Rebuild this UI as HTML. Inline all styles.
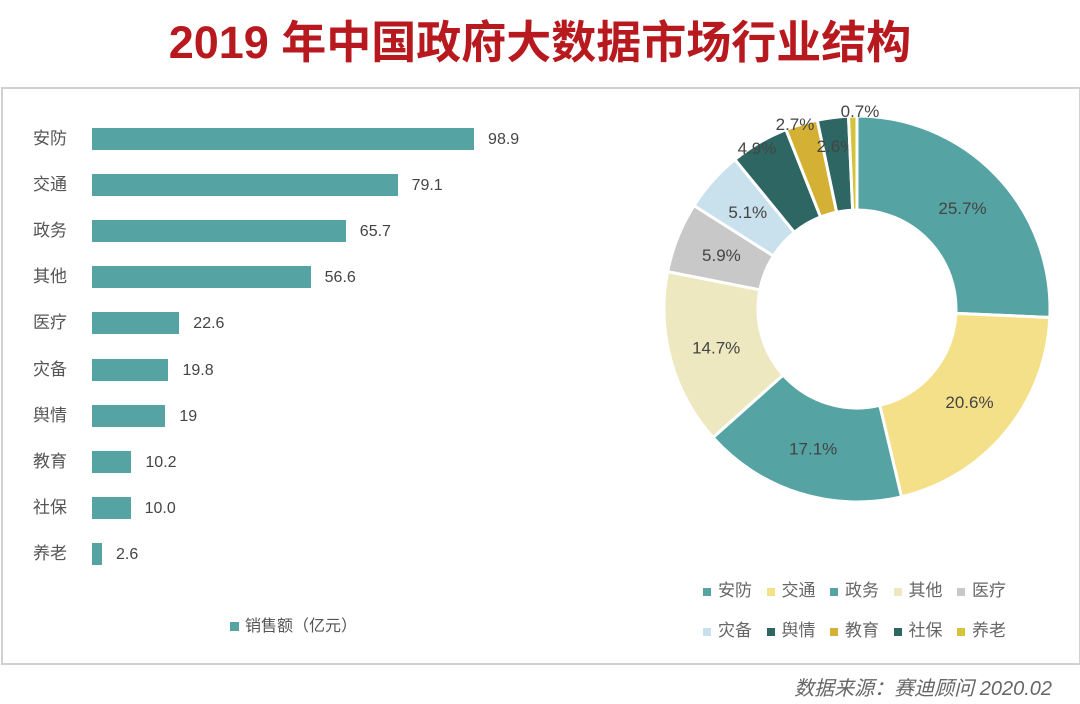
<!DOCTYPE html>
<html><head><meta charset="utf-8"><style>
body{margin:0;width:1080px;height:704px;background:#fff;overflow:hidden;font-family:"Liberation Sans","Noto Sans CJK SC",sans-serif;position:relative}
.t{position:absolute;top:6px;left:0;width:1080px;text-align:center;color:#b8191f;font-weight:bold;font-size:45px;font-family:"Liberation Sans","Noto Sans CJK SC",sans-serif}
.frame{position:absolute;left:1px;top:87px;width:1076px;height:574px;border:2px solid #d0d0d0}
.lab{position:absolute;left:33px;font-size:17px;color:#555;line-height:20px}
.bar{position:absolute;left:92px;height:22px;background:#55a3a3}
.val{position:absolute;font-size:16px;color:#444;line-height:20px}
.src{position:absolute;right:28px;top:672px;font-size:20px;color:#666;font-style:italic}
</style></head><body>
<div class="t">2019 年中国政府大数据市场行业结构</div>
<div class="frame"></div>
<div id="bars"></div>
<div style="position:absolute;left:230px;top:612px;font-size:16px;color:#555"><span style="display:inline-block;width:9px;height:9px;background:#55a3a3;margin-right:6px"></span>销售额（亿元）</div>
<svg id="pie" width="1080" height="704" style="position:absolute;left:0;top:0"></svg>
<div id="leg"></div>
<div class="src">数据来源：赛迪顾问 2020.02</div>
<script>
var names=["安防","交通","政务","其他","医疗","灾备","舆情","教育","社保","养老"];
var vals=[98.9,79.1,65.7,56.6,22.6,19.8,19,10.2,10.0,2.6];
var vs=["98.9","79.1","65.7","56.6","22.6","19.8","19","10.2","10.0","2.6"];
var h="";
for(var i=0;i<10;i++){var y=139+i*46.1;var w=vals[i]*3.863;
h+='<div class="lab" style="top:'+(y-10)+'px">'+names[i]+'</div><div class="bar" style="top:'+(y-11)+'px;width:'+w+'px"></div><div class="val" style="top:'+(y-9)+'px;left:'+(92+w+14)+'px">'+vs[i]+'</div>';}
document.getElementById("bars").innerHTML=h;
var pc=[25.7,20.6,17.1,14.7,5.9,5.1,4.9,2.7,2.6,0.7];
var col=["#55a3a3","#f5e08a","#55a3a3","#ede8bf","#c8c8c8","#c9e1ec","#2e6664","#d4b134","#2e6664","#d4c43c"];
var cx=857,cy=309,R=193,r=99,a=-Math.PI/2,s="";
var lp=[[0,0],[0,0],[0,0],[0,0],[0,0],[0,0],[757,148],[795,124],[836,146],[860,111]];
for(var i=0;i<10;i++){var b=a+pc[i]/100*2*Math.PI;var L=(pc[i]>50)?1:0;
function P(rr,t){return (cx+rr*Math.cos(t)).toFixed(2)+","+(cy+rr*Math.sin(t)).toFixed(2)}
s+='<path d="M'+P(R,a)+' A'+R+','+R+' 0 '+L+' 1 '+P(R,b)+' L'+P(r,b)+' A'+r+','+r+' 0 '+L+' 0 '+P(r,a)+'Z" fill="'+col[i]+'" stroke="#fff" stroke-width="3"/>';
var m=(a+b)/2,tx,ty;
if(i<6){tx=cx+146*Math.cos(m);ty=cy+146*Math.sin(m);}else{tx=lp[i][0];ty=lp[i][1];}
s+='<text x="'+tx+'" y="'+(ty+6)+'" text-anchor="middle" font-size="17" fill="#444" font-family="Liberation Sans, sans-serif">'+pc[i].toFixed(1)+'%</text>';
a=b;}
document.getElementById("pie").innerHTML=s;
var g="";
for(var i=0;i<10;i++){var x=703+(i%5)*63.5,y=(i<5)?576:616;
g+='<div style="position:absolute;left:'+x+'px;top:'+y+'px;font-size:17px;color:#666;white-space:nowrap"><span style="display:inline-block;width:8px;height:8px;background:'+col[i]+';margin-right:7px;vertical-align:middle"></span>'+names[i]+'</div>';}
document.getElementById("leg").innerHTML=g;
</script>
</body></html>
